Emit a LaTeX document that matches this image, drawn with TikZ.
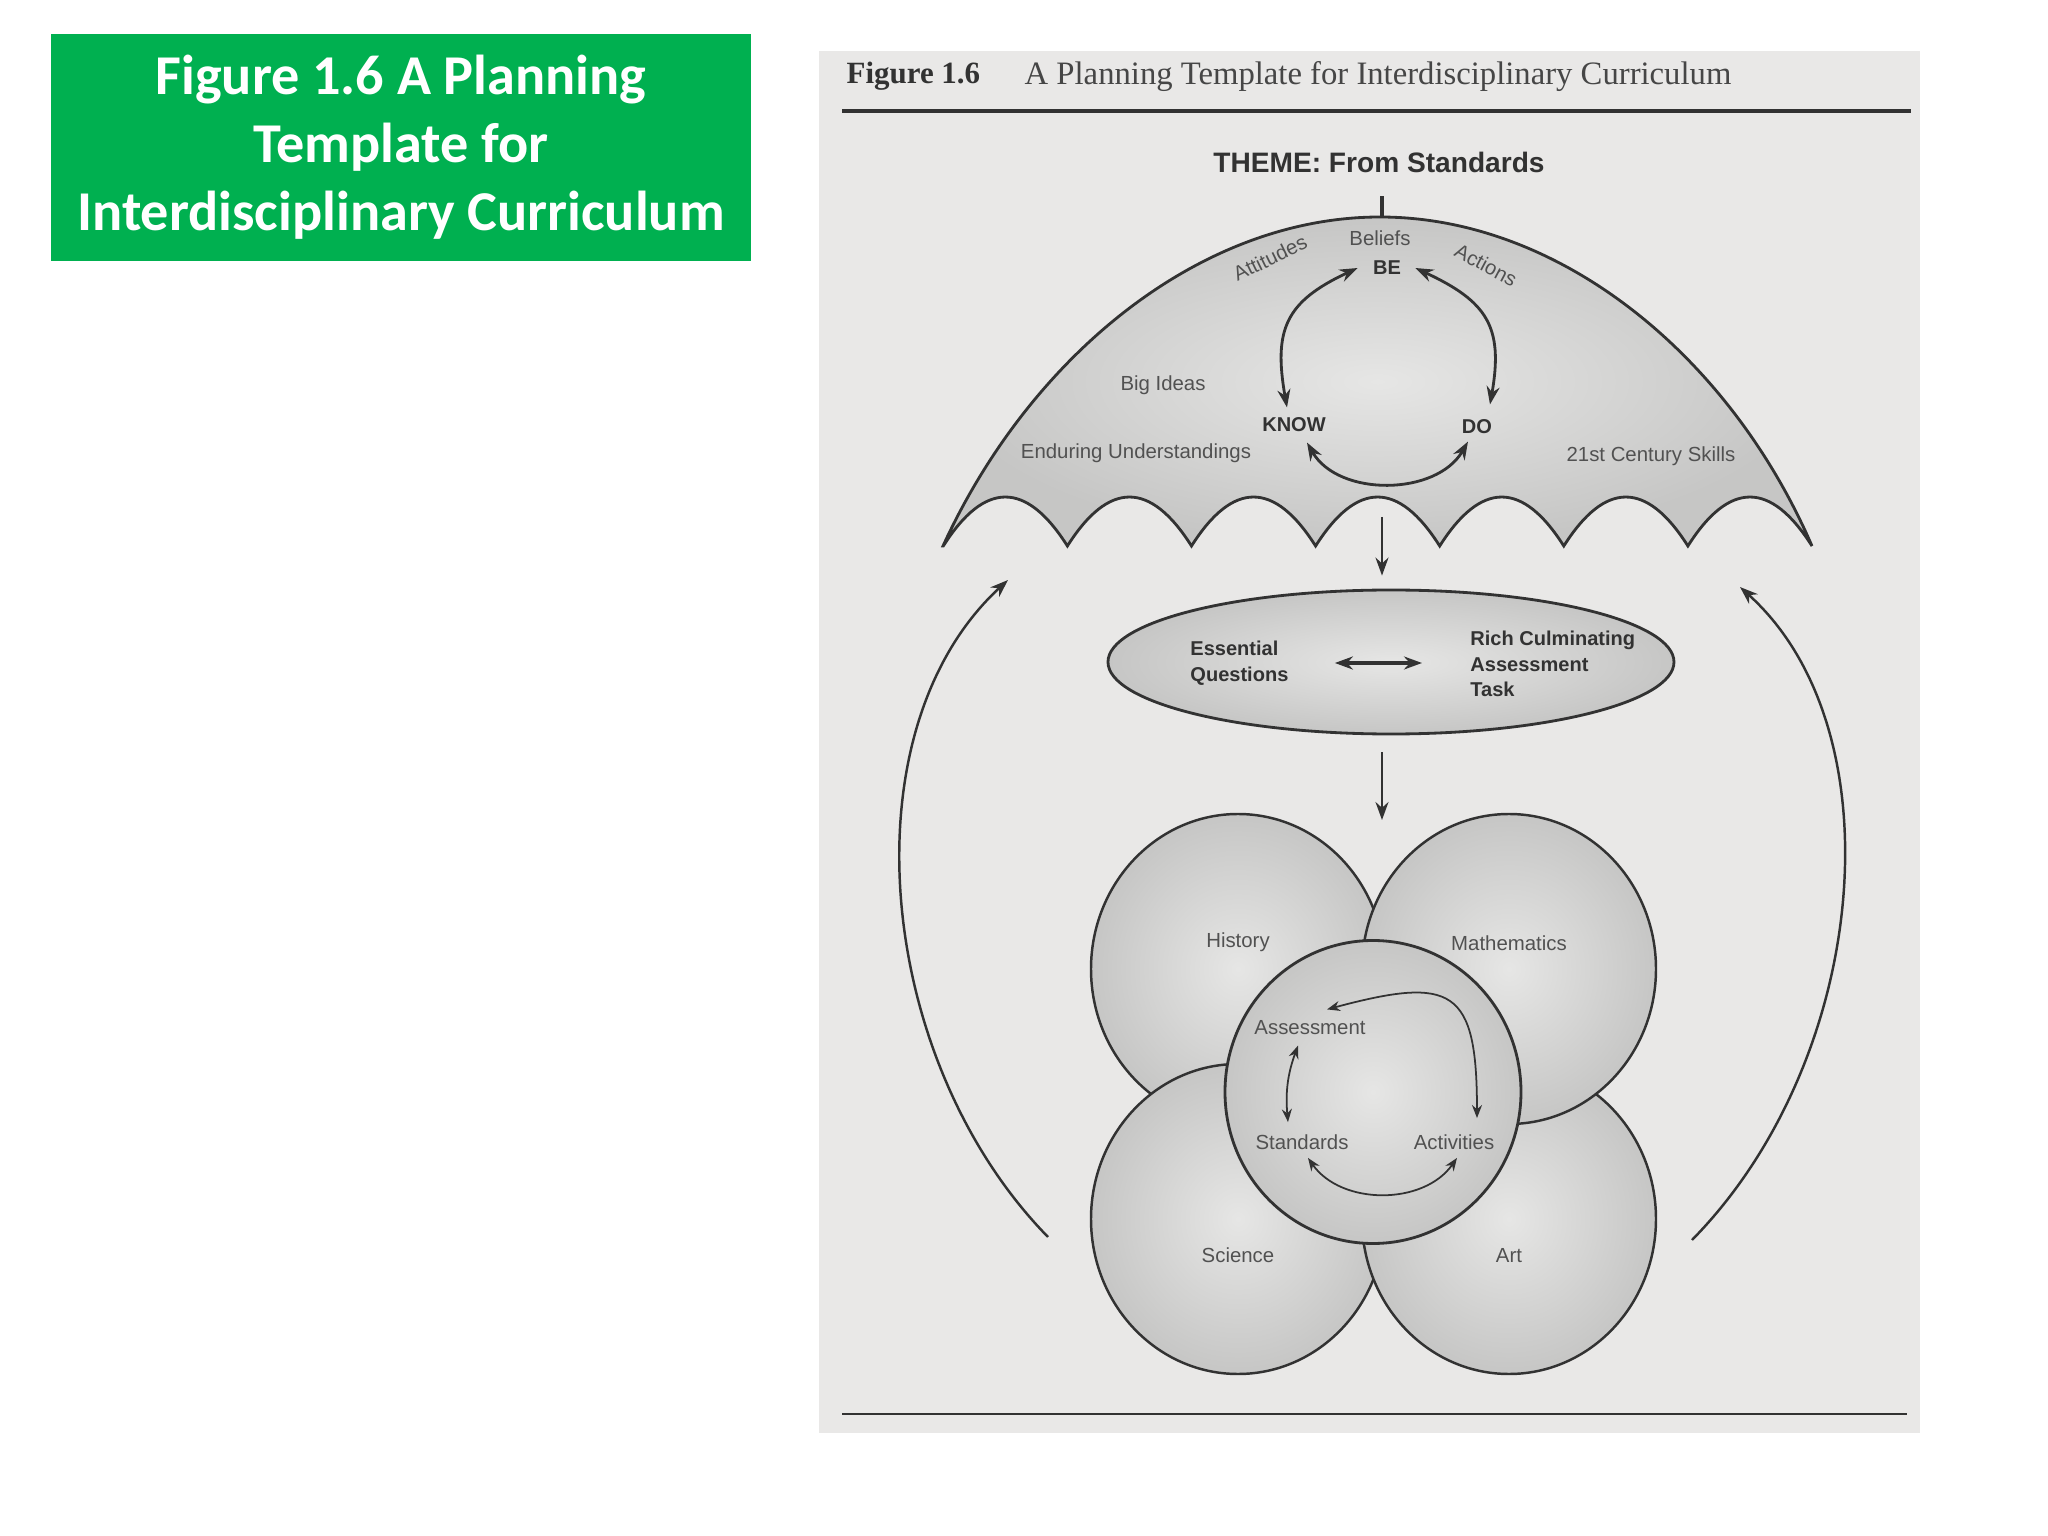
\documentclass[tikz,border=0pt]{standalone}
\usepackage{fontspec}
\setmainfont{Liberation Serif}
\setsansfont{Liberation Sans}
\newfontfamily\boxfont{Carlito}
\usetikzlibrary{arrows.meta,shapes.geometric}

\definecolor{titlegreen}{RGB}{0,176,80}
\definecolor{paper}{RGB}{233,232,231}
\definecolor{ink}{RGB}{50,50,50}
\definecolor{shadein}{RGB}{230,230,229}
\definecolor{shadeout}{RGB}{198,198,197}

\begin{document}
\begin{tikzpicture}[
    >={Stealth[length=1.8mm,width=1.3mm]},
    lbl/.style={font=\sffamily\fontsize{5.8}{7}\selectfont, text=ink!85, inner sep=0.5pt},
    blbl/.style={font=\sffamily\bfseries\fontsize{5.7}{7.3}\selectfont, text=ink, inner sep=0.5pt, align=left},
    subject/.style={ellipse, draw=ink, line width=0.7pt, minimum width=2.94cm, minimum height=3.1cm, inner sep=0pt, inner color=shadein, outer color=shadeout},
    cycarrow/.style={<->, draw=ink, line width=0.8pt},
    ringarrow/.style={<->, >={Stealth[length=1.3mm,width=1mm]}, draw=ink, line width=0.5pt},
    bigarrow/.style={->, draw=ink, line width=0.7pt},
]
    % page and green title box
    \fill[white] (0,0) rectangle (20.48,-15.36);
    \useasboundingbox (0,0) rectangle (20.48,-15.36);
    \fill[titlegreen] (0.51,-0.34) rectangle (7.51,-2.61);
    \node[text=white, align=center, font=\boxfont\bfseries\fontsize{16}{19.3}\selectfont] (boxtitle) at (4.01,-1.47)
        {Figure 1.6 A Planning\\Template for\\Interdisciplinary Curriculum};

    % scanned page
    \fill[paper] (8.19,-0.51) rectangle (19.20,-14.33);
    \node[anchor=base west, inner sep=0pt, text=ink, font=\bfseries\fontsize{8.8}{10}\selectfont] (fignum) at (8.46,-0.84) {Figure 1.6};
    \node[anchor=base west, inner sep=0pt, text=ink!90, font=\fontsize{9.3}{11}\selectfont] (figtitle) at (10.24,-0.85) {A Planning Template for Interdisciplinary Curriculum};
    \draw[ink, line width=0.9pt] (8.42,-1.11) -- (19.11,-1.11);
    \draw[ink, line width=0.7pt] (8.42,-14.14) -- (19.07,-14.14);

    \node[font=\sffamily\bfseries\fontsize{8}{9}\selectfont, text=ink] (theme) at (13.79,-1.62) {THEME: From Standards};

    % umbrella
    \shade[inner color=shadein, outer color=shadeout, draw=ink, line width=0.8pt]
        (9.43,-5.46) .. controls (10.3,-3.56) and (12.0,-2.17) .. (13.80,-2.17)
        .. controls (15.6,-2.17) and (17.30,-3.56) .. (18.12,-5.46)
        foreach \k in {1,...,7} { .. controls ({18.12-(\k-1)*1.241-0.4137},-4.807) and ({18.12-\k*1.241+0.4137},-4.807) .. ({18.12-\k*1.241},-5.46) } -- cycle;
    \draw[ink, line width=1.3pt] (13.82,-2.17) -- (13.82,-1.96);

    \node[lbl] (beliefs) at (13.80,-2.38) {Beliefs};
    \node[blbl] (be) at (13.87,-2.68) {BE};
    \node[lbl, rotate=26] (attitudes) at (12.70,-2.58) {Attitudes};
    \node[lbl, rotate=-28] (actions) at (14.86,-2.65) {Actions};
    \node[lbl] (bigideas) at (11.63,-3.85) {Big Ideas};
    \node[lbl] (enduring) at (11.36,-4.53) {Enduring Understandings};
    \node[blbl] (know) at (12.94,-4.25) {KNOW};
    \node[blbl] (do) at (14.77,-4.27) {DO};
    \node[lbl] (skills) at (16.51,-4.56) {21st Century Skills};

    \draw[cycarrow] ([xshift=-1.3mm]be.west) to[out=205, in=100, looseness=1.3] ([shift={(-0.7mm,0.8mm)}]know.north);
    \draw[cycarrow] ([xshift=1.2mm]be.east) to[out=-25, in=80, looseness=1.3] ([shift={(1.3mm,1.3mm)}]do.north);
    \draw[cycarrow] ([shift={(1.3mm,-0.8mm)}]know.south) to[out=-60, in=-120] ([shift={(-0.9mm,-0.5mm)}]do.south);

    % arrows down
    \coordinate (umb) at (13.82,-5.17);
    \coordinate (meet) at (13.82,-8.20);
    \node[ellipse, draw=ink, line width=0.8pt, minimum width=5.66cm, minimum height=1.44cm, inner color=shadein, outer color=shadeout] (eq) at (13.91,-6.62) {};
    \draw[->, ink, line width=0.7pt, shorten >=1.3mm] (umb) -- (umb |- eq.north);
    \draw[->, ink, line width=0.7pt, shorten <=1.7mm] (umb |- eq.south) -- (meet);

    \node[blbl, anchor=west] (eqtxt) at (11.88,-6.63) {Essential\\Questions};
    \node[blbl, anchor=west] (rich) at (14.68,-6.64) {Rich Culminating\\Assessment\\Task};
    \draw[<->, ink, line width=0.9pt, shorten <=4.4mm, shorten >=4.6mm] (eqtxt.east) -- (eqtxt.east -| rich.west);

    % subject circles
    \node[subject] (hist) at (12.38,-9.69) {};
    \node[subject] (sci) at (12.38,-12.19) {};
    \node[subject] (art) at (15.09,-12.19) {};
    \node[subject] (math) at (15.09,-9.69) {};
    \node[lbl] at ([yshift=2.7mm]hist.center) {History};
    \node[lbl] at ([yshift=2.6mm]math.center) {Mathematics};
    \node[lbl] at ([yshift=-3.6mm]sci.center) {Science};
    \node[lbl] at ([yshift=-3.7mm]art.center) {Art};

    % centre ring
    \node[ellipse, draw=ink, line width=0.8pt, minimum width=2.96cm, minimum height=3.03cm, inner color=shadein, outer color=shadeout] (ring) at (13.73,-10.92) {};
    \node[lbl] (assess) at (13.10,-10.28) {Assessment};
    \node[lbl] (stand) at (13.02,-11.42) {Standards};
    \node[lbl] (activ) at (14.54,-11.42) {Activities};
    \draw[ringarrow] ([shift={(1.7mm,0.9mm)}]assess.north) to[out=15, in=90, looseness=1.8] ([shift={(2.3mm,1.4mm)}]activ.north);
    \draw[ringarrow] ([shift={(-1.2mm,-0.8mm)}]assess.south) to[out=250, in=95] ([shift={(-1.4mm,1mm)}]stand.north);
    \draw[ringarrow] ([shift={(0.6mm,-0.6mm)}]stand.south) to[out=-55, in=-125] ([shift={(0.3mm,-0.6mm)}]activ.south);

    % feedback arrows
    \coordinate (lfoot) at (10.48,-12.37);
    \coordinate (ltip) at (10.08,-5.80);
    \coordinate (rfoot) at (16.92,-12.40);
    \coordinate (rtip) at (17.40,-5.87);
    \draw[bigarrow] (lfoot) .. controls (8.75,-10.6) and (8.45,-7.3) .. (ltip);
    \draw[bigarrow] (rfoot) .. controls (18.69,-10.6) and (18.99,-7.3) .. (rtip);
\end{tikzpicture}
\end{document}
